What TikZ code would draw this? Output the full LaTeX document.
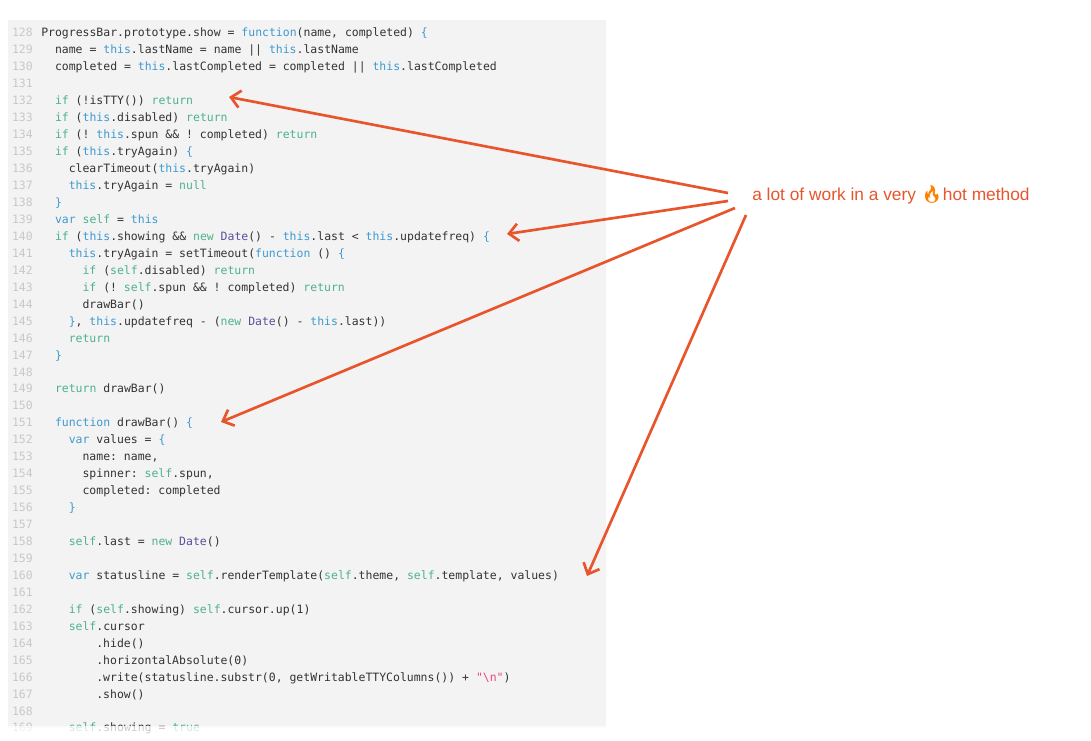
\documentclass[tikz,border=0pt]{standalone}
\usepackage{fontspec}
\setmonofont{DejaVu Sans Mono}
\setmainfont{Liberation Sans}
\newfontfamily\emo{Noto Emoji}
\usetikzlibrary{arrows.meta}
\definecolor{kb}{HTML}{3D9AD1}
\definecolor{kg}{HTML}{4DB38A}
\definecolor{kp}{HTML}{5B4E9C}
\definecolor{kr}{HTML}{E8457A}
\definecolor{tx}{HTML}{333333}
\definecolor{ln}{HTML}{C8C8C8}
\definecolor{panel}{HTML}{F3F3F3}
\definecolor{arr}{HTML}{E8552D}
\newcommand\B[1]{\textcolor{kb}{#1}}
\newcommand\G[1]{\textcolor{kg}{#1}}
\newcommand\Pu[1]{\textcolor{kp}{#1}}
\newcommand\lo{\{}
\newcommand\lc{\}}
\newcommand\cl[3]{\node[code,anchor=base west] (c#1) at ({41+#2*6.88},{37+(#1-128)*16.95}) {#3};}
\tikzset{code/.style={inner sep=0pt,text=tx,font=\ttfamily\fontsize{8.6}{10}\selectfont},
lnum/.style={inner sep=0pt,text=ln,anchor=base east,font=\ttfamily\fontsize{8.6}{10}\selectfont},
hot/.style={draw=arr,line width=2pt,-{Straight Barb[length=7pt,width=13pt,line width=2pt]}}}
\begin{document}
\begin{tikzpicture}[x=0.75pt,y=-0.75pt]
\useasboundingbox (0,0) rectangle (1091,741);
\fill[white] (0,0) rectangle (1091,741);
\fill[panel] (8,20) rectangle (606,728);
\foreach \n in {128,...,169} \node[lnum] (n\n) at (33,{37+(\n-128)*16.95}) {\n};
\cl{128}{0}{ProgressBar.prototype.show = \B{function}(name, completed) \B{\lo}}
\cl{129}{2}{name = \B{this}.lastName = name || \B{this}.lastName}
\cl{130}{2}{completed = \B{this}.lastCompleted = completed || \B{this}.lastCompleted}
\cl{132}{2}{\G{if} (!isTTY()) \G{return}}
\cl{133}{2}{\G{if} (\B{this}.disabled) \G{return}}
\cl{134}{2}{\G{if} (! \B{this}.spun \&\& ! completed) \G{return}}
\cl{135}{2}{\G{if} (\B{this}.tryAgain) \B{\lo}}
\cl{136}{4}{clearTimeout(\B{this}.tryAgain)}
\cl{137}{4}{\B{this}.tryAgain = \G{null}}
\cl{138}{2}{\B{\lc}}
\cl{139}{2}{\B{var} \G{self} = \B{this}}
\cl{140}{2}{\G{if} (\B{this}.showing \&\& \G{new} \Pu{Date}() - \B{this}.last < \B{this}.updatefreq) \B{\lo}}
\cl{141}{4}{\B{this}.tryAgain = setTimeout(\B{function} () \B{\lo}}
\cl{142}{6}{\G{if} (\G{self}.disabled) \G{return}}
\cl{143}{6}{\G{if} (! \G{self}.spun \&\& ! completed) \G{return}}
\cl{144}{6}{drawBar()}
\cl{145}{4}{\B{\lc}, \B{this}.updatefreq - (\G{new} \Pu{Date}() - \B{this}.last))}
\cl{146}{4}{\G{return}}
\cl{147}{2}{\B{\lc}}
\cl{149}{2}{\G{return} drawBar()}
\cl{151}{2}{\B{function} drawBar() \B{\lo}}
\cl{152}{4}{\B{var} values = \B{\lo}}
\cl{153}{6}{name: name,}
\cl{154}{6}{spinner: \G{self}.spun,}
\cl{155}{6}{completed: completed}
\cl{156}{4}{\B{\lc}}
\cl{158}{4}{\G{self}.last = \G{new} \Pu{Date}()}
\cl{160}{4}{\B{var} statusline = \G{self}.renderTemplate(\G{self}.theme, \G{self}.template, values)}
\cl{162}{4}{\G{if} (\G{self}.showing) \G{self}.cursor.up(1)}
\cl{163}{4}{\G{self}.cursor}
\cl{164}{8}{.hide()}
\cl{165}{8}{.horizontalAbsolute(0)}
\cl{166}{8}{.write(statusline.substr(0, getWritableTTYColumns()) + \textcolor{kr}{"\textbackslash n"})}
\cl{167}{8}{.show()}
\cl{169}{4}{\G{self}.showing = \G{true}}
\fill[white,opacity=0.75] (0,726) rectangle (1091,741);
\node[text=arr,anchor=west,inner sep=0pt,font=\fontsize{13}{15}\selectfont] (lbl) at (752,195)
  {a lot of work in a very {\emo\textcolor{orange}{🔥}}hot method};
\coordinate (s1) at (728,193);
\coordinate (s2) at (728,201);
\coordinate (s3) at (735,208);
\coordinate (s4) at (746,215);
\coordinate (t1) at (229,97);
\coordinate (t2) at (507,234);
\coordinate (t3) at (221,422);
\coordinate (t4) at (587,576);
\draw[hot] (s1) -- (t1);
\draw[hot] (s2) -- (t2);
\draw[hot] (s3) -- (t3);
\draw[hot] (s4) -- (t4);
\end{tikzpicture}
\end{document}
